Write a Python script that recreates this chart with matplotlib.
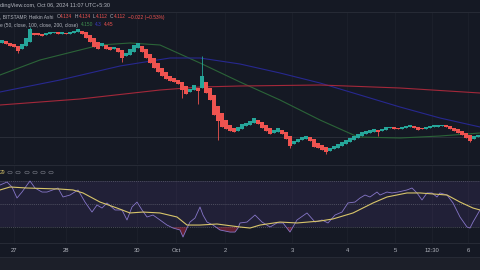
import numpy as np
import matplotlib
matplotlib.use("Agg")
import matplotlib.pyplot as plt

# ---------------------------------------------------------------- data
# Heikin Ashi bars, one per bar index 0..119 (price)
ha_open = [4.692, 4.701, 4.692, 4.683, 4.674, 4.659, 4.674, 4.698, 4.752, 4.749,
           4.746, 4.740, 4.746, 4.752, 4.755, 4.749, 4.752, 4.749, 4.752, 4.758,
           4.764, 4.755, 4.740, 4.722, 4.698, 4.674, 4.680, 4.668, 4.656, 4.662,
           4.650, 4.614, 4.620, 4.638, 4.662, 4.674, 4.656, 4.626, 4.602, 4.572,
           4.542, 4.518, 4.494, 4.482, 4.470, 4.458, 4.434, 4.398, 4.410, 4.422,
           4.422, 4.458, 4.422, 4.380, 4.314, 4.272, 4.230, 4.200, 4.182, 4.164,
           4.176, 4.194, 4.200, 4.212, 4.230, 4.218, 4.200, 4.182, 4.152, 4.161,
           4.170, 4.158, 4.137, 4.086, 4.098, 4.110, 4.116, 4.128, 4.116, 4.092,
           4.077, 4.065, 4.044, 4.053, 4.062, 4.074, 4.086, 4.098, 4.110, 4.122,
           4.134, 4.146, 4.152, 4.161, 4.170, 4.164, 4.170, 4.179, 4.185, 4.182,
           4.176, 4.182, 4.188, 4.194, 4.188, 4.182, 4.176, 4.182, 4.188, 4.191,
           4.194, 4.197, 4.194, 4.185, 4.176, 4.164, 4.152, 4.137, 4.116, 4.125]
ha_close = [4.710, 4.686, 4.674, 4.668, 4.644, 4.686, 4.722, 4.776, 4.740, 4.740,
            4.734, 4.752, 4.758, 4.758, 4.746, 4.755, 4.746, 4.755, 4.761, 4.773,
            4.746, 4.722, 4.698, 4.668, 4.656, 4.692, 4.656, 4.650, 4.668, 4.638,
            4.602, 4.632, 4.656, 4.680, 4.692, 4.638, 4.602, 4.572, 4.542, 4.518,
            4.494, 4.476, 4.464, 4.458, 4.446, 4.410, 4.386, 4.416, 4.440, 4.404,
            4.494, 4.392, 4.350, 4.260, 4.224, 4.188, 4.176, 4.164, 4.161, 4.188,
            4.206, 4.212, 4.224, 4.242, 4.206, 4.182, 4.164, 4.146, 4.170, 4.179,
            4.146, 4.116, 4.074, 4.104, 4.116, 4.125, 4.131, 4.104, 4.068, 4.062,
            4.050, 4.038, 4.062, 4.074, 4.086, 4.098, 4.110, 4.122, 4.134, 4.146,
            4.158, 4.164, 4.167, 4.173, 4.158, 4.176, 4.185, 4.188, 4.176, 4.173,
            4.188, 4.194, 4.197, 4.182, 4.170, 4.173, 4.188, 4.194, 4.197, 4.197,
            4.200, 4.188, 4.176, 4.164, 4.152, 4.140, 4.122, 4.104, 4.131, 4.140]
# bars whose wick reaches past the body
wick_hi = {7: 4.788, 50: 4.614}
wick_lo = {4: 4.632, 30: 4.578, 45: 4.362, 49: 4.326, 54: 4.110, 72: 4.062,
           81: 4.026, 94: 4.134, 117: 4.098}

# moving averages (bar index, price)
ma50_x = [-0.5, 9.5, 24.5, 32, 39.5, 49.5, 59.5, 69.5, 79.5, 89, 99.5, 109.5, 119.5]
ma50_v = [4.500, 4.590, 4.680, 4.692, 4.680, 4.572, 4.458, 4.350, 4.230, 4.128,
          4.122, 4.134, 4.152]
ma100_x = [-0.5, 14.5, 29.5, 42, 49.5, 59.5, 69.5, 79.5, 89.5, 99.5, 109.5, 119.5]
ma100_v = [4.398, 4.470, 4.554, 4.602, 4.602, 4.566, 4.512, 4.452, 4.380, 4.308,
           4.242, 4.188]
ma200_x = [-0.5, 19.5, 39.5, 49.5, 59.5, 79.5, 99.5, 119.5]
ma200_v = [4.320, 4.356, 4.410, 4.428, 4.434, 4.440, 4.422, 4.392]

# RSI and its moving average
rsi_x = [-0.5, 1.25, 2.5, 3.75, 5, 6.25, 7, 8.25, 10, 11.25, 14, 15.25, 17, 19,
         20.75, 22.5, 23.75, 25, 26.25, 28.25, 30, 31.25, 32.5, 33.75, 35, 36.25,
         37.75, 39.5, 41.25, 42.75, 44.5, 45.25, 46.25, 47, 48.25, 49.5, 50.25,
         51.25, 52.75, 54.5, 57, 58.25, 59, 59.5, 61.25, 63.25, 65, 67, 68.75,
         70.25, 72, 73.75, 76.25, 78.25, 80, 81.5, 83.25, 85, 86.5, 88.25, 89.5,
         90.75, 92, 93.75, 94.5, 96.25, 97.5, 99, 101.25, 102.5, 103.75, 105,
         106.25, 107.5, 108.75, 109.5, 111.25, 112.75, 114.5, 116.25, 117, 117.75,
         119.5]
rsi_v = [66.5, 69.1, 64.8, 55.2, 60.4, 66.5, 70.0, 63.9, 60.4, 60.4, 63.9, 56.1,
         57.8, 62.2, 51.7, 43.0, 49.1, 46.5, 50.9, 44.8, 44.8, 36.1, 47.4, 51.7,
         44.8, 38.7, 40.4, 36.1, 31.7, 29.1, 27.4, 21.3, 29.1, 34.3, 37.8, 47.4,
         40.4, 34.3, 31.7, 27.4, 25.6, 25.6, 29.1, 33.5, 34.3, 40.4, 34.3, 30.0,
         33.5, 33.5, 25.6, 36.1, 42.2, 34.3, 36.1, 33.5, 40.4, 43.0, 50.9, 51.7,
         55.2, 57.8, 56.1, 60.4, 57.8, 60.4, 59.6, 60.4, 62.2, 63.9, 59.6, 53.5,
         59.6, 59.6, 56.1, 59.6, 57.8, 50.9, 38.7, 30.0, 29.1, 34.3, 44.8]
rsi_ma_x = [-0.5, 2, 6.25, 14.5, 17.75, 20.25, 24.5, 28.75, 32, 35.25, 39.5,
            43.75, 46.25, 49.5, 53.75, 59.5, 62, 64.5, 69.5, 73.75, 79.5, 82.75,
            87.75, 92.75, 96.25, 101.25, 104.5, 111.25, 114.5, 117.75, 119.5]
rsi_ma_v = [62.2, 64.8, 63.9, 63.0, 62.2, 59.6, 51.7, 46.5, 42.2, 43.0, 42.2,
            38.7, 31.7, 31.7, 32.6, 30.0, 29.1, 31.7, 34.3, 33.5, 35.2, 37.0,
            42.2, 50.9, 56.1, 59.6, 59.6, 57.8, 51.7, 46.5, 44.8]

# time scale
tick_pos = [3, 16, 33.75, 43.5, 55.75, 72.5, 86.25, 98.25, 107.5, 116.5]
tick_lab = ["27", "28", "30", "Oct", "2", "3", "4", "5", "12:30", "6"]

# ---------------------------------------------------------------- style
W, H = 480, 270
BG = "#151924"
UP, DN = "#26a69a", "#ef5350"
GRID = "#1d212c"
TXT = "#b2b5be"
plt.rcParams["font.family"] = ["Liberation Sans", "DejaVu Sans"]

fig = plt.figure(figsize=(W / 100, H / 100), dpi=100, facecolor=BG)
R = fig.canvas.get_renderer()


def pane(top, bottom):
    ax = fig.add_axes([0, 1 - bottom / H, 1, (bottom - top) / H])
    ax.set_facecolor(BG)
    ax.set_xlim(-0.5, 119.5)
    ax.set_xticks([]); ax.set_yticks([])
    for s in ax.spines.values():
        s.set_visible(False)
    return ax


def ftext(x, y, s, c=TXT, size=4.0, **kw):
    return fig.text(x / W, 1 - y / H, s, color=c, fontsize=size, va="center", **kw)


def run(x, y, parts, size):
    # pieces of one legend line, each starting after the previous one
    for s, c, gap in parts:
        t = ftext(x, y, s, c, size)
        x = t.get_window_extent(R).x1 + gap


# ---------------------------------------------------------------- main pane
ax = pane(12, 164)
ax.set_ylim(4.95 - 0.006 * 164, 4.95 - 0.006 * 12)
for t in tick_pos:
    ax.axvline(t, color=GRID, lw=0.6, zorder=0)
ax.axhline(4.128, color="#2a2e39", lw=0.7, zorder=0)

o = np.array(ha_open); c = np.array(ha_close)
idx = np.arange(len(o))
hi = np.maximum(o, c); lo = np.minimum(o, c)
for k, v in wick_hi.items():
    hi[k] = v
for k, v in wick_lo.items():
    lo[k] = v
col = np.where(c >= o, UP, DN)
ax.vlines(idx, lo, hi, colors=col, lw=0.6, zorder=3)
ax.bar(idx, np.maximum(np.abs(c - o), 0.005), bottom=np.minimum(o, c), width=0.78,
       color=col, linewidth=0, zorder=4)

ax.plot(ma50_x, ma50_v, color="#2b6438", lw=0.8, zorder=2)
ax.plot(ma100_x, ma100_v, color="#27288f", lw=0.8, zorder=2)
ax.plot(ma200_x, ma200_v, color="#a3283a", lw=0.8, zorder=2)

# ---------------------------------------------------------------- RSI pane
ax2 = pane(165, 243)
ax2.set_ylim(50 - 39 / 1.15, 50 + 39 / 1.15)
for t in tick_pos:
    ax2.axvline(t, color=GRID, lw=0.6, zorder=0)
ax2.axhspan(30, 70, color="#7e57c2", alpha=0.12, lw=0, zorder=0)
for lvl in (70, 50, 30):
    ax2.axhline(lvl, color="#787b86", lw=0.5, ls=(0, (1.5, 1.5)), alpha=0.7)
rv = np.array(rsi_v)
ax2.fill_between(rsi_x, rv, 30, where=rv < 30, interpolate=True,
                 color="#b2283f", alpha=0.5, lw=0)
ax2.plot(rsi_x, rsi_v, color="#8676c8", lw=0.6, zorder=3)
ax2.plot(rsi_ma_x, rsi_ma_v, color="#d8c56a", lw=0.8, zorder=4)

# ---------------------------------------------------------------- time axis
tax = pane(243, 257)
tax.set_ylim(0, 1)
for t, s in zip(tick_pos, tick_lab):
    tax.text(t, 0.5, s, color=TXT, fontsize=4.2, ha="center", va="center")
bot = pane(257, 270)
bot.set_facecolor("#1c1f29")

# separators
for y in (12, 164.5, 243, 257):
    fig.add_artist(plt.Line2D([0, 1], [1 - y / H] * 2, color="#262a35", lw=0.8))

# ---------------------------------------------------------------- legends
ftext(0, 6, "dingView.com, Oct 06, 2024 11:07 UTC+5:30", size=4.0)
run(0, 17, [(", BITSTAMP, Heikin Ashi", TXT, 3),
            ("O", TXT, 0.3), ("4.134", DN, 2),
            ("H", TXT, 0.3), ("4.134", DN, 2),
            ("L", TXT, 0.3), ("4.112", DN, 2),
            ("C", TXT, 0.3), ("4.112", DN, 3),
            ("\u22120.022 (\u22120.53%)", DN, 0)], 3.5)
run(0, 25, [("e (50, close, 100, close, 200, close)", TXT, 3),
            ("4.150", "#3f8f4f", 2), ("4.3", "#3a3bc0", 2),
            ("4.45", DN, 0)], 3.5)

ftext(0, 172, "29", "#d8c56a", size=3.6)
for x in (10, 18, 27, 35, 43, 51):
    fig.add_artist(plt.Circle((x / W, 1 - 172.5 / H), 2.2 / W, transform=fig.transFigure,
                              fill=False, ec="#6a6d78", lw=0.5))

fig.savefig("out.png", dpi=100, facecolor=BG)
